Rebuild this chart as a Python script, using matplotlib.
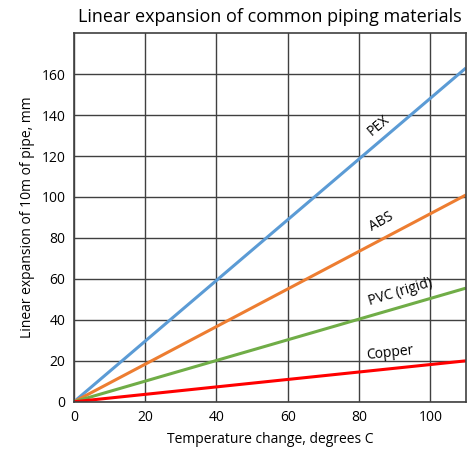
import matplotlib
matplotlib.use("Agg")
import matplotlib.pyplot as plt

plt.rcParams['font.family'] = ['Open Sans', 'DejaVu Sans']

materials = ["PEX", "ABS", "PVC (rigid)", "Copper"]
temps = [0, 110]
expansion = {
    "PEX": [0, 163],
    "ABS": [0, 101],
    "PVC (rigid)": [0, 55.5],
    "Copper": [0, 20],
}
colors = {"PEX": "#5b9bd5", "ABS": "#ed7d31", "PVC (rigid)": "#70ad47", "Copper": "#ff0000"}
label_pos = {"PEX": (85.6, 135, 40), "ABS": (86.4, 88, 29), "PVC (rigid)": (91.5, 53.5, 17), "Copper": (88.7, 24, 6)}
xticks = [0, 20, 40, 60, 80, 100]
yticks = [0, 20, 40, 60, 80, 100, 120, 140, 160]

fig = plt.figure(figsize=(4.74, 4.54), dpi=100)
ax = fig.add_axes([0.156, 0.115, 0.827, 0.812])
for m in materials:
    ax.plot(temps, expansion[m], color=colors[m], lw=2.2, solid_capstyle='butt')
    x, y, r = label_pos[m]
    ax.text(x, y, m, rotation=r, fontsize=10, ha='center', va='center')
ax.set_xlim(0, 110)
ax.set_ylim(0, 180)
ax.set_xticks(xticks)
ax.set_yticks(yticks)
ax.grid(True, color='#404040', lw=1)
ax.tick_params(length=0, labelsize=10, pad=6)
for s in ax.spines.values():
    s.set_color('#404040')
    s.set_linewidth(1.2)
ax.set_title("Linear expansion of common piping materials", fontsize=13, pad=8)
ax.set_xlabel("Temperature change, degrees C", fontsize=10, labelpad=5)
ax.set_ylabel("Linear expansion of 10m of pipe, mm", fontsize=10, labelpad=5)
fig.savefig("out.png", dpi=100)
